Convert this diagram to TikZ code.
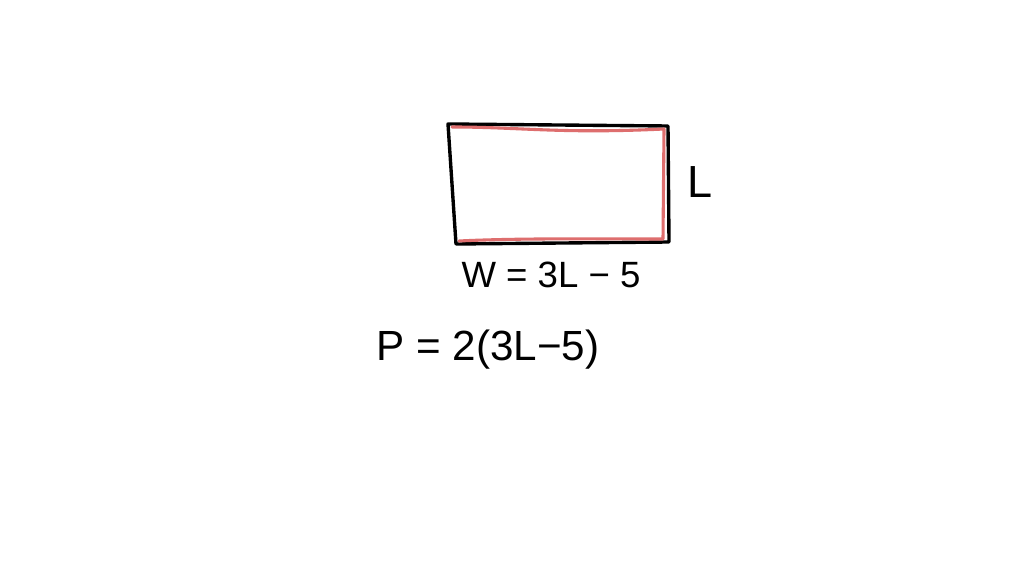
\documentclass[tikz,border=0pt]{standalone}
\usepackage{fontspec}
\setmainfont{Liberation Sans}
\begin{document}
\begin{tikzpicture}[x=0.025cm,y=-0.025cm,
  ink/.style={draw=black,line width=2.4pt,line cap=round,line join=round},
  redink/.style={draw={rgb,255:red,222;green,110;blue,110},line width=2.2pt,line cap=round,line join=round},
  hand/.style={inner sep=0pt,anchor=center,text=black}]
\useasboundingbox[fill=white] (0,0) rectangle (1024,576);
% black rectangle
\coordinate (tl) at (448,124);
\coordinate (tr) at (668,126);
\coordinate (br) at (669,242);
\coordinate (bl) at (456,244);
\draw[ink] (tl) -- (tr) -- (br) -- (bl) -- cycle;
% red overlay on top, right, bottom
\coordinate (rtl) at (452,127);
\coordinate (rtr) at (664,129);
\coordinate (rbr) at (663,239);
\coordinate (rbl) at (459,241);
\draw[redink] (rtl) .. controls (520,127) and (560,134) .. (rtr) -- (rbr) .. controls (600,239) and (520,238) .. (rbl);
% labels
\node[hand,font=\fontsize{32}{36}\selectfont] (lbl) at (700,182) {L};
\node[hand,font=\fontsize{26}{30}\selectfont] (w) at (551,275) {W = 3L − 5};
\node[hand,font=\fontsize{30}{34}\selectfont] (p) at (488,350) {P = 2(3L−5)};
\end{tikzpicture}
\end{document}
